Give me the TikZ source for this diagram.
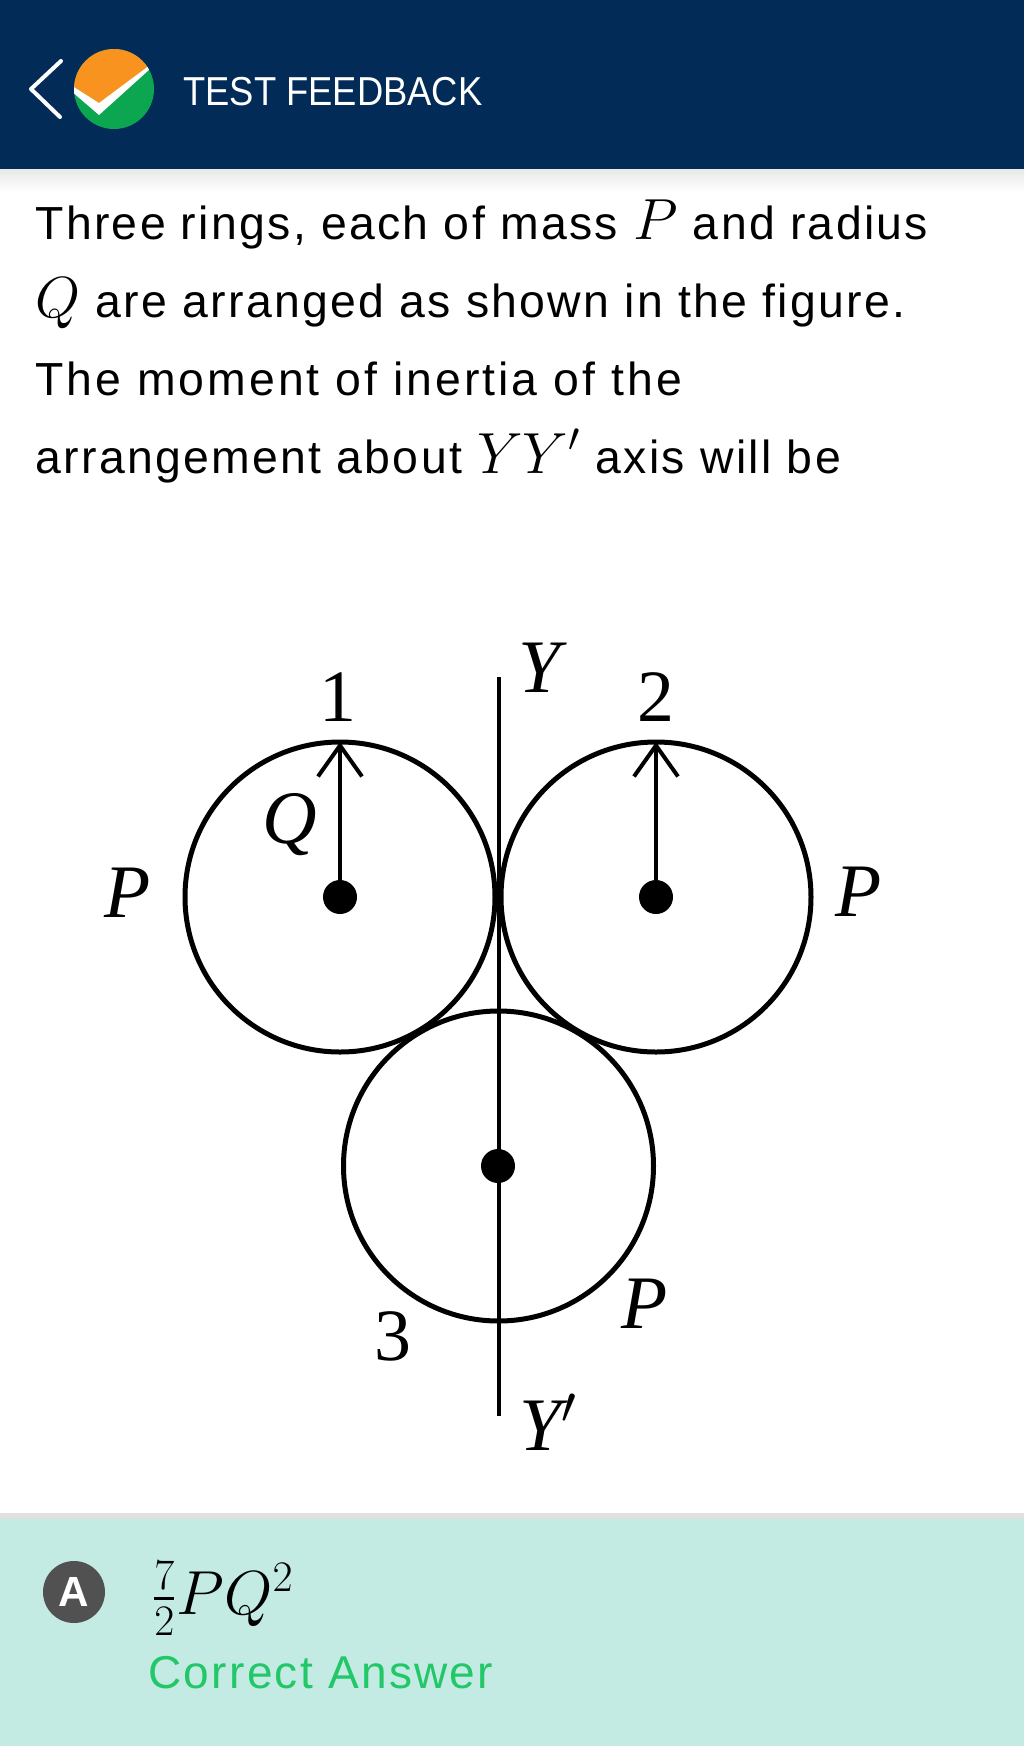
\RequirePackage{fix-cm}
\documentclass[tikz,border=0pt]{standalone}
\usepackage{amsmath}
\usepackage{amssymb}
\usepackage{fontspec}
\setmainfont{Liberation Sans}
\usetikzlibrary{arrows.meta}
\definecolor{navybar}{HTML}{022B57}
\definecolor{logoorange}{HTML}{F7931E}
\definecolor{logogreen}{HTML}{0BA64F}
\definecolor{answerbg}{HTML}{C3EBE4}
\definecolor{answergreen}{HTML}{22C768}
\definecolor{badgegray}{HTML}{515151}
\newfontfamily\bodyfont[LetterSpace=5]{Liberation Sans}
\newfontfamily\widefont[LetterSpace=6.5]{Liberation Sans}
\newfontfamily\titlefont[FakeStretch=0.9]{Liberation Sans}
\newfontfamily\figfont{Liberation Serif}
\newcommand{\qsym}[1]{{\fontsize{33}{30}\selectfont$#1$}}
\tikzset{
  ring/.style={circle,draw,line width=0.1cm,minimum size=6.2cm,inner sep=0pt,outer sep=0pt},
  hub/.style={circle,fill=black,minimum size=0.68cm,inner sep=0pt,outer sep=0pt},
  radius arrow/.style={line width=0.08cm,-{Straight Barb[length=0.62cm,width=0.88cm,line width=0.08cm]}},
  label/.style={inner sep=0pt,font=\figfont\itshape\fontsize{43}{43}\selectfont},
  numlabel/.style={inner sep=0pt,font=\figfont\fontsize{42}{42}\selectfont},
  line/.style={anchor=base west,inner sep=0pt,text=black,font=\bodyfont\fontsize{26.4}{30}\selectfont}
}
\begin{document}
\begin{tikzpicture}
            \useasboundingbox (0,0) rectangle (20.48,-34.92);
            \fill[white] (0,0) rectangle (20.48,-34.92);
            \fill[navybar] (0,0) rectangle (20.48,-3.38);
            \shade[top color=black!9,bottom color=white] (0,-3.38) rectangle (20.48,-3.85);
            \draw[white,line width=0.08cm,line cap=round,line join=round] (1.22,-1.22) -- (0.62,-1.78) -- (1.20,-2.34);
            \begin{scope}
              \clip (2.28,-1.78) circle (0.8);
              \fill[logogreen] (1.4,-0.9) rectangle (3.2,-2.7);
              \fill[logoorange] (1.4,-0.9) -- (3.2,-0.9) -- (3.2,-1.2) -- (1.98,-2.06) -- (1.4,-1.69) -- cycle;
              \fill[white] (1.40,-1.69) -- (1.98,-2.06) -- (3.0,-1.30) -- (3.0,-1.38) -- (1.98,-2.30) -- (1.40,-1.80) -- cycle;
            \end{scope}
            \node[anchor=base west,inner sep=0pt,text=white,font=\titlefont\fontsize{23}{26}\selectfont] (title) at (3.66,-2.10) {TEST FEEDBACK};

            \node[line] (line1) at (0.70,-4.78) {Three rings, each of mass \qsym{P} and radius};
            \node[line] (line2) at (0.70,-6.34) {\qsym{Q} are arranged as shown in the figure.};
            \node[line,font=\widefont\fontsize{26.4}{30}\selectfont] (line3) at (0.70,-7.90) {The moment of inertia of the};
            \node[line] (line4) at (0.70,-9.46) {arrangement about \qsym{YY'} axis will be};

            \coordinate (axistop) at (9.98,-13.54);
            \coordinate (axisbot) at (9.98,-28.32);
            \draw[line width=0.08cm] (axistop) -- (axisbot);
            \node[ring] (ring1) at (6.80,-17.94) {};
            \node[ring] (ring2) at (13.12,-17.94) {};
            \node[ring] (ring3) at (9.97,-23.32) {};
            \node[hub] (hub1) at (6.80,-17.94) {};
            \node[hub] (hub2) at (13.12,-17.94) {};
            \node[hub] (hub3) at (9.96,-23.32) {};
            \draw[radius arrow] (hub1) -- (ring1.north);
            \draw[radius arrow] (hub2) -- (ring2.north);
            \node[numlabel] (num1) at (6.76,-13.94) {1};
            \node[numlabel] (num2) at (13.12,-13.94) {2};
            \node[numlabel] (num3) at (7.86,-26.72) {3};
            \node[label] (axisY) at (10.80,-13.36) {Y};
            \node[label] (axisYp) at (10.96,-28.44) {Y$'$};
            \node[label] (massa) at (2.56,-17.86) {P};
            \node[label] (massb) at (17.18,-17.84) {P};
            \node[label] (massc) at (12.90,-26.08) {P};
            \node[label] (radius) at (5.80,-16.50) {Q};

            \fill[black!12] (0,-30.26) rectangle (20.48,-30.40);
            \fill[answerbg] (0,-30.38) rectangle (20.48,-34.92);
            \node[circle,fill=badgegray,minimum size=1.24cm,inner sep=0pt,text=white,font=\bfseries\fontsize{24}{26}\selectfont] (badge) at (1.48,-31.84) {A};
            \node[anchor=base west,inner sep=0pt,font=\fontsize{35.4}{38}\selectfont] (answer) at (3.04,-32.28) {$\frac{7}{2}PQ^2$};
            \node[line,text=answergreen,font=\bodyfont\fontsize{26.2}{28}\selectfont] (correct) at (2.96,-33.76) {Correct Answer};
          \end{tikzpicture}
\end{document}
